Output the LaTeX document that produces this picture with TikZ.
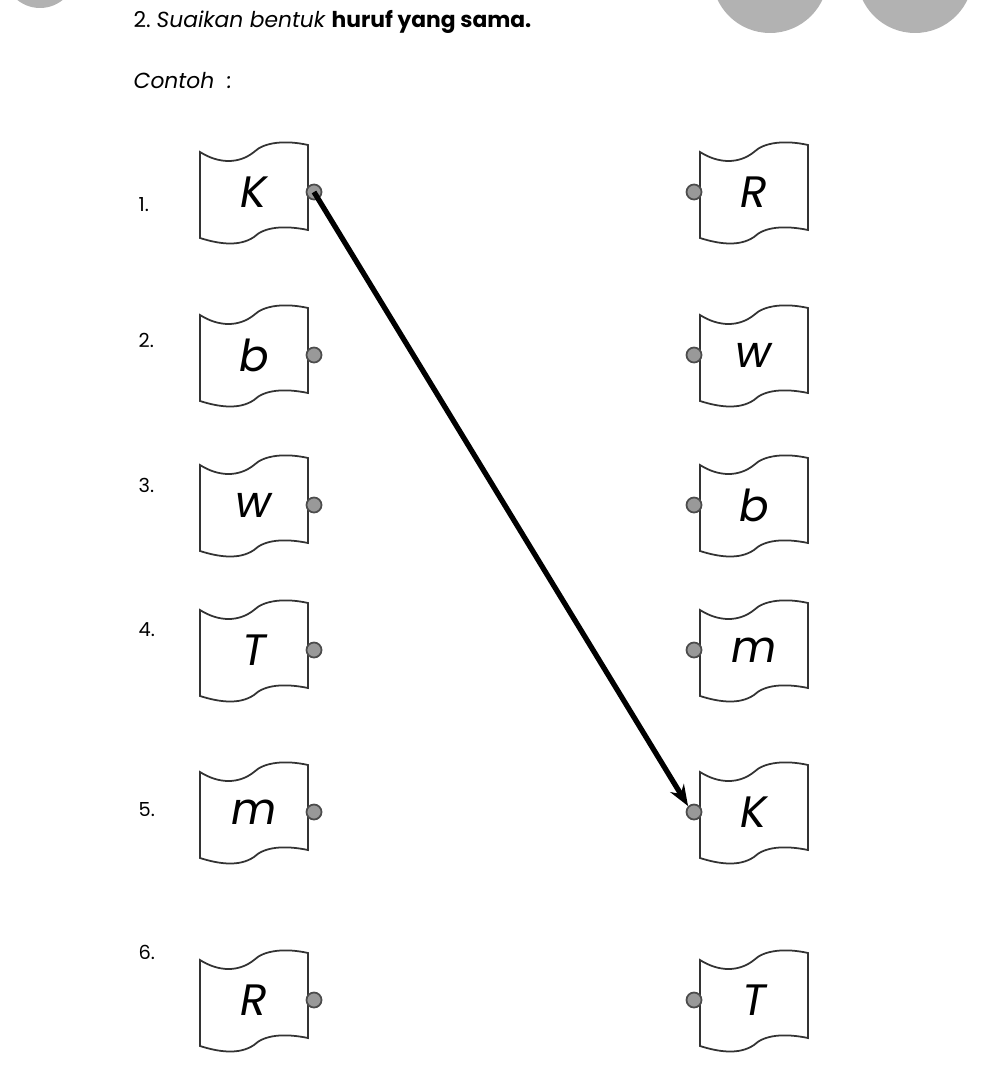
\documentclass[tikz,border=0pt]{standalone}
\usepackage{fontspec}
\setmainfont{Poppins}
\usetikzlibrary{arrows.meta}
\begin{document}
\begin{tikzpicture}[x=0.01cm,y=-0.01cm,
  letter/.style={font=\fontsize{12.5}{14}\selectfont\itshape, inner sep=0pt},
  num/.style={font=\fontsize{5.5}{7}\selectfont, anchor=west, inner sep=0pt},
  dot/.style={circle, draw=black!70, fill=black!40, line width=0.5pt, minimum size=0.15cm, inner sep=0pt},
  bannerline/.style={draw=black!80, line width=0.5pt},
  pics/banner/.style={code={
    \path[bannerline] (-54,-40) .. controls (-35,-28) and (-15,-28) .. (0,-40)
      .. controls (10,-50) and (32,-52) .. (54,-47) -- (54,38)
      .. controls (30,33) and (10,35) .. (0,45)
      .. controls (-15,55) and (-35,52) .. (-54,46) -- cycle;}}]
\useasboundingbox (0,0) rectangle (1000,1088);
\fill[black!30] (770,-25) circle (58);
\fill[black!30] (915,-25) circle (58);
\fill[black!30] (40,-28) circle (36);
\node[anchor=west,inner sep=0pt,font=\fontsize{6.2}{8}\selectfont] (title) at (133,22) {2.\ \textit{Suaikan bentuk} \textbf{huruf yang sama.}};
\node[anchor=west,inner sep=0pt,font=\fontsize{6.2}{8}\selectfont\itshape] (contoh) at (133,81) {Contoh \ :};
\foreach \i/\y/\l/\r/\ny in {1/192/K/R/205,2/355/b/w/340,3/505/w/b/485,4/650/T/m/630,5/812/m/K/810,6/1000/R/T/952}{
  \pic at (254,\y) {banner};
  \pic at (754,\y) {banner};
  \node[letter] (L\i) at (254,\y) {\l};
  \node[letter] (R\i) at (754,\y) {\r};
  \node[dot] (DL\i) at (314,\y) {};
  \node[dot] (DR\i) at (694,\y) {};
  \node[num] (N\i) at (138,\ny) {\i.};
}
\draw[line width=1.5pt,-{Stealth[length=6pt]}] (DL1.center) -- (DR5.north west);
\end{tikzpicture}
\end{document}
